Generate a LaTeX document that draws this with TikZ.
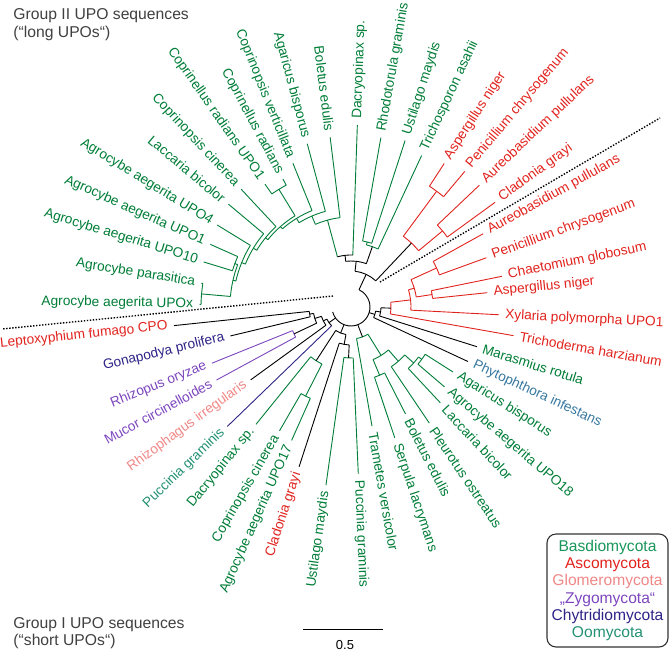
\documentclass[tikz,border=0pt]{standalone}
\usepackage{fontspec}
\setmainfont{Liberation Sans}
\usetikzlibrary{positioning}
\definecolor{basid}{RGB}{0,125,55}
\definecolor{basidL}{RGB}{25,150,90}
\definecolor{asco}{RGB}{225,35,30}
\definecolor{glom}{RGB}{240,135,135}
\definecolor{zygo}{RGB}{125,70,190}
\definecolor{chyt}{RGB}{45,35,135}
\definecolor{oomy}{RGB}{35,145,115}
\definecolor{phyto}{RGB}{55,120,160}

% taxon, right half: name, angle, inner r, tip r, line colour, text colour, text
\newcommand{\taxR}[7]{%
  \draw[#5] (#2:#3) -- (#2:#4);
  \node[taxon,text=#6,anchor=west,rotate=#2] (#1) at (#2:{#4+6}) {#7};}
% taxon, left half
\newcommand{\taxL}[7]{%
  \draw[#5] (#2:#3) -- (#2:#4);
  \node[taxon,text=#6,anchor=east,rotate={#2-180}] (#1) at (#2:{#4+6}) {#7};}
% clade arc: colour, radius, from angle, to angle
\newcommand{\clade}[4]{\draw[#1] (#3:#2) arc[start angle=#3,end angle=#4,radius=#2pt];}
% stem: colour, angle, inner r, outer r
\newcommand{\stem}[4]{\draw[#1] (#2:#3) -- (#2:#4);}

\begin{document}
\begin{tikzpicture}[x=1pt,y=1pt,line width=0.9pt,
    taxon/.style={font=\fontsize{13.7}{16}\selectfont,inner sep=0pt},
    heading/.style={font=\fontsize{15.7}{19}\selectfont,text=black!75,inner sep=0pt,anchor=base west},
    split/.style={line width=1.4pt,dash pattern=on 1.4pt off 1.6pt}]
  \useasboundingbox (-351,-344) rectangle (320,307);
  % group II: agaricales ladder
  \taxL{upox}{179}{150}{151.5}{basid}{basid}{Agrocybe aegerita UPOx}
  \taxL{apar}{171}{150}{151.5}{basid}{basid}{Agrocybe parasitica}
  \clade{basid}{150}{171}{179}
  \stem{basid}{175}{121}{150}
  \taxL{upo10}{163}{124}{154}{basid}{basid}{Agrocybe aegerita UPO10}
  \taxL{upo1}{156}{124}{154}{basid}{basid}{Agrocybe aegerita UPO1}
  \clade{basid}{124}{156}{163}
  \stem{basid}{159.5}{121}{124}
  \clade{basid}{121}{159.5}{175}
  \stem{basid}{167.25}{118}{121}
  \taxL{upo4}{148.5}{118}{157}{basid}{basid}{Agrocybe aegerita UPO4}
  \clade{basid}{118}{148.5}{167.25}
  \stem{basid}{157.9}{114}{118}
  \taxL{lbic}{140}{114}{160}{basid}{basid}{Laccaria bicolor}
  \clade{basid}{114}{140}{157.9}
  \stem{basid}{148.95}{110}{114}
  \taxL{ccin}{133}{110}{161}{basid}{basid}{Coprinopsis cinerea}
  \clade{basid}{110}{133}{148.95}
  \stem{basid}{141}{107}{110}
  \taxL{crad1}{125}{138}{150}{basid}{basid}{Coprinellus radians UPO1}
  \taxL{crad}{118}{138}{145}{basid}{basid}{Coprinellus radians}
  \clade{basid}{138}{118}{125}
  \stem{basid}{121.5}{107}{138}
  \clade{basid}{107}{121.5}{141}
  \stem{basid}{131.25}{104}{107}
  \taxL{cver}{112}{104}{155}{basid}{basid}{Coprinopsis verticillata}
  \clade{basid}{104}{112}{131.25}
  \stem{basid}{121.6}{99}{104}
  \taxL{abis}{105}{99}{169}{basid}{basid}{Agaricus bisporus}
  \clade{basid}{99}{105}{121.6}
  \stem{basid}{113.3}{90}{99}
  \taxL{bedu}{97}{90}{171}{basid}{basid}{Boletus edulis}
  \clade{basid}{90}{97}{113.3}
  \stem{basid}{105.15}{52}{90}
  % group II: other basidiomycetes
  \taxR{dacr}{88}{52}{182}{basid}{basid}{Dacryopinax sp.}
  \clade{black}{52}{88}{105.15}
  \stem{black}{96.6}{46}{52}
  \taxR{rgra}{80}{67}{172}{basid}{basid}{Rhodotorula graminis}
  \taxR{umay}{72}{67}{175}{basid}{basid}{Ustilago maydis}
  \clade{basid}{67}{72}{80}
  \stem{basid}{76}{64}{67}
  \taxR{tasa}{65}{64}{167}{basid}{basid}{Trichosporon asahii}
  \clade{basid}{64}{65}{76}
  \stem{black}{70.5}{46}{64}
  \clade{black}{46}{70.5}{96.6}
  \stem{black}{83.55}{36}{46}
  % group II: ascomycetes
  \taxR{anig}{57}{144}{171}{asco}{asco}{Aspergillus niger}
  \taxR{pchr}{50}{144}{177}{asco}{asco}{Penicillium chrysogenum}
  \clade{asco}{144}{50}{57}
  \stem{asco}{53.5}{88}{144}
  \taxR{apul}{43.5}{119}{177}{asco}{asco}{Aureobasidium pullulans}
  \taxR{cgra}{36}{119}{178}{asco}{asco}{Cladonia grayi}
  \clade{asco}{119}{36}{43.5}
  \stem{asco}{39.75}{88}{119}
  \clade{asco}{88}{39.75}{53.5}
  \stem{black}{46.6}{36}{88}
  \clade{black}{36}{46.6}{83.55}
  \stem{black}{65.1}{19}{36}
  % group I: ascomycetes
  \taxR{apul2}{29}{94}{151}{asco}{asco}{Aureobasidium pullulans}
  \taxR{pchr2}{20}{94}{144}{asco}{asco}{Penicillium chrysogenum}
  \clade{asco}{94}{20}{29}
  \stem{asco}{24.5}{66}{94}
  \taxR{cglo}{11.5}{82}{154}{asco}{asco}{Chaetomium globosum}
  \taxR{anig2}{6}{82}{137}{asco}{asco}{Aspergillus niger}
  \clade{asco}{82}{6}{11.5}
  \stem{asco}{8.75}{66}{82}
  \clade{asco}{66}{8.75}{24.5}
  \stem{asco}{16.6}{60}{66}
  \taxR{xpol}{-3}{60}{148}{asco}{asco}{Xylaria polymorpha UPO1}
  \clade{asco}{60}{-3}{16.6}
  \stem{asco}{6.8}{40}{60}
  \taxR{thar}{-10}{40}{165}{asco}{asco}{Trichoderma harzianum}
  \clade{asco}{40}{-10}{6.8}
  \stem{black}{-1.6}{30}{40}
  \taxR{mrot}{-17.5}{30}{132}{black}{basid}{Marasmius rotula}
  \clade{black}{30}{-17.5}{-1.6}
  \stem{black}{-9.55}{25}{30}
  \taxR{pinf}{-25}{25}{129}{black}{phyto}{Phytophthora infestans}
  \clade{black}{25}{-25}{-9.55}
  \stem{black}{-17.3}{19}{25}
  % group I: basidiomycetes
  \taxR{abis2}{-32.5}{88}{121}{basid}{basid}{Agaricus bisporus}
  \taxR{upo18}{-40.5}{88}{123}{basid}{basid}{Agrocybe aegerita UPO18}
  \clade{basid}{88}{-40.5}{-32.5}
  \stem{basid}{-36.5}{84}{88}
  \taxR{lbic2}{-47}{84}{131}{basid}{basid}{Laccaria bicolor}
  \clade{basid}{84}{-47}{-36.5}
  \stem{basid}{-41.75}{72}{84}
  \taxR{post}{-56}{72}{140}{basid}{basid}{Pleurotus ostreatus}
  \clade{basid}{72}{-56}{-41.75}
  \stem{basid}{-48.9}{57}{72}
  \taxR{bedu2}{-63}{74}{120}{basid}{basid}{Boletus edulis}
  \taxR{slac}{-71.5}{74}{138}{basid}{basid}{Serpula lacrymans}
  \clade{basid}{74}{-71.5}{-63}
  \stem{basid}{-67.25}{57}{74}
  \clade{basid}{57}{-67.25}{-48.9}
  \stem{basid}{-58.1}{32}{57}
  \taxR{tver}{-80}{32}{121}{basid}{basid}{Trametes versicolor}
  \clade{basid}{32}{-80}{-58.1}
  \stem{black}{-69}{19}{32}
  \taxR{pgra}{-87.5}{51}{167}{basid}{basid}{Puccinia graminis}
  \taxL{umay2}{262}{51}{180}{basid}{basid}{Ustilago maydis}
  \clade{basid}{51}{-98}{-87.5}
  \stem{black}{-92.75}{38}{51}
  \taxL{cgra2}{252}{38}{168}{black}{asco}{Cladonia grayi}
  \clade{black}{38}{-108}{-92.75}
  \stem{black}{-100.4}{28}{38}
  \taxL{upo17}{246}{100}{146}{basid}{basid}{Agrocybe aegerita UPO17}
  \taxL{ccin2}{240}{100}{143}{basid}{basid}{Coprinopsis cinerea}
  \clade{basid}{100}{240}{246}
  \stem{basid}{243}{64}{100}
  \taxL{dacr2}{231}{64}{151}{basid}{basid}{Dacryopinax sp.}
  \clade{basid}{64}{231}{243}
  \stem{black}{237}{28}{64}
  \clade{black}{28}{237}{259.6}
  \stem{black}{248.3}{19}{28}
  % group I: early lineages
  \taxL{pgra2}{224}{27}{172}{chyt}{oomy}{Puccinia graminis}
  \taxL{rirr}{216}{31}{124}{black}{glom}{Rhizophagus irregularis}
  \taxL{mcir}{208.5}{63}{153}{zygo}{zygo}{Mucor circinelloides}
  \taxL{rory}{202}{63}{150}{zygo}{zygo}{Rhizopus oryzae}
  \clade{zygo}{63}{202}{208.5}
  \stem{black}{205.25}{38}{63}
  \taxL{gpro}{193.5}{42}{124}{black}{chyt}{Gonapodya prolifera}
  \taxL{lfum}{186}{42}{178}{black}{asco}{Leptoxyphium fumago CPO}
  \clade{black}{42}{186}{193.5}
  \stem{black}{189.75}{38}{42}
  \clade{black}{38}{189.75}{205.25}
  \stem{black}{197.5}{31}{38}
  \clade{black}{31}{197.5}{216}
  \stem{black}{206.75}{27}{31}
  \clade{black}{27}{206.75}{224}
  \stem{black}{215.4}{19}{27}
  % root
  \clade{black}{19}{195}{425.1}
  % group borders
  \coordinate (lsA) at (-18,11);
  \coordinate (lsB) at (-349,-22);
  \coordinate (rsA) at (29,25);
  \coordinate (rsB) at (309,189);
  \draw[split] (lsA) -- (lsB);
  \draw[split] (rsA) -- (rsB);
  % headings
  \node[heading] (g2a) at (-338,287.5) {Group II UPO sequences};
  \node[heading] (g2b) at (-338,269.5) {(“long UPOs“)};
  \node[heading] (g1a) at (-338,-321.5) {Group I UPO sequences};
  \node[heading] (g1b) at (-338,-338) {(“short UPOs“)};
  % scale bar
  \coordinate (sbL) at (-48,-322);
  \coordinate (sbR) at (32,-322);
  \draw[line width=1pt] (sbL) -- (sbR);
  \node[font=\fontsize{13}{15}\selectfont,inner sep=0pt] (sblbl) at (-6,-338) {0.5};
  % legend
  \node[draw=black!80,line width=1.1pt,rounded corners=9pt,align=center,
        minimum width=121,minimum height=113,inner sep=0pt,
        font=\fontsize{15.6}{17.3}\selectfont] (legend) at (256.5,-283.5)
    {\textcolor{basidL}{Basdiomycota}\\
     \textcolor{asco}{Ascomycota}\\
     \textcolor{glom}{Glomeromycota}\\
     \textcolor{zygo}{„Zygomycota“}\\
     \textcolor{chyt}{Chytridiomycota}\\
     \textcolor{oomy}{Oomycota}};
\end{tikzpicture}
\end{document}
